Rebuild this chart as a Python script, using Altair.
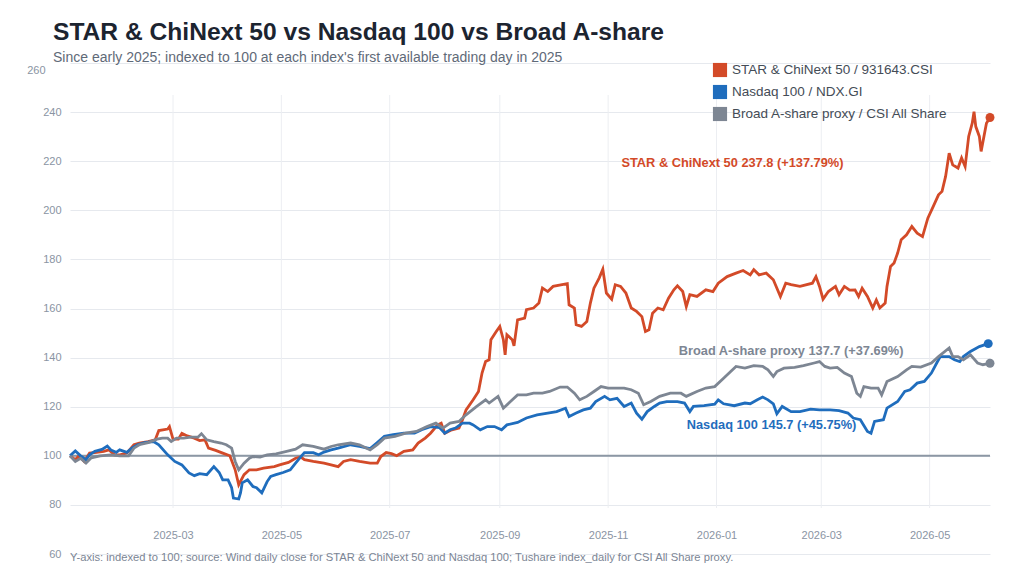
import altair as alt
import pandas as pd

FONT = "Liberation Sans"

# ---------------- data ----------------
star_dates = ["2025-01-02","2025-01-05","2025-01-07","2025-01-10","2025-01-13","2025-01-17","2025-01-21","2025-01-24","2025-01-27","2025-01-30",
"2025-02-03","2025-02-07","2025-02-10","2025-02-15","2025-02-19","2025-02-21","2025-02-26","2025-02-27","2025-03-01","2025-03-04",
"2025-03-06","2025-03-09","2025-03-13","2025-03-16","2025-03-19","2025-03-21","2025-03-25","2025-03-29","2025-04-02","2025-04-05",
"2025-04-07","2025-04-10","2025-04-13","2025-04-17","2025-04-21","2025-04-27","2025-04-30","2025-05-05","2025-05-09","2025-05-12",
"2025-05-14","2025-05-19","2025-05-25","2025-05-29","2025-06-02","2025-06-05","2025-06-09","2025-06-14","2025-06-20","2025-06-24",
"2025-06-26","2025-06-29","2025-07-02","2025-07-05","2025-07-09","2025-07-14","2025-07-17","2025-07-21","2025-07-24","2025-07-28",
"2025-07-30","2025-08-01","2025-08-05","2025-08-09","2025-08-11","2025-08-13","2025-08-17","2025-08-20","2025-08-22","2025-08-24",
"2025-08-26","2025-08-27","2025-08-30","2025-09-01","2025-09-03","2025-09-04","2025-09-05","2025-09-08","2025-09-09","2025-09-11",
"2025-09-15","2025-09-16","2025-09-20","2025-09-23","2025-09-25","2025-09-28","2025-10-01","2025-10-09","2025-10-10","2025-10-13",
"2025-10-14","2025-10-17","2025-10-20","2025-10-22","2025-10-24","2025-10-27","2025-10-29","2025-10-31","2025-11-03","2025-11-05",
"2025-11-08","2025-11-11","2025-11-14","2025-11-17","2025-11-20","2025-11-22","2025-11-24","2025-11-26","2025-11-29","2025-12-02",
"2025-12-05","2025-12-08","2025-12-10","2025-12-13","2025-12-15","2025-12-17","2025-12-21","2025-12-26","2025-12-30","2026-01-02",
"2026-01-07","2026-01-12","2026-01-16","2026-01-20","2026-01-22","2026-01-25","2026-01-29","2026-02-02","2026-02-06","2026-02-09",
"2026-02-12","2026-02-17","2026-02-24","2026-02-26","2026-02-28","2026-03-02","2026-03-05","2026-03-09","2026-03-11","2026-03-14",
"2026-03-17","2026-03-20","2026-03-22","2026-03-24","2026-03-27","2026-03-30","2026-04-01","2026-04-03","2026-04-06","2026-04-07",
"2026-04-09","2026-04-11","2026-04-13","2026-04-15","2026-04-18","2026-04-21","2026-04-24","2026-04-27","2026-04-30","2026-05-03",
"2026-05-06","2026-05-08","2026-05-10","2026-05-12","2026-05-14","2026-05-17","2026-05-19","2026-05-21","2026-05-23","2026-05-25",
"2026-05-26","2026-05-27","2026-05-29","2026-05-30","2026-06-02","2026-06-04"]
star_values = [100.0,98.4,100.0,97.7,101.1,101.4,101.8,102.4,100.4,100.4,
101.1,104.5,105.2,105.8,106.5,110.3,110.9,111.9,106.8,106.8,
109.2,108.1,107.2,106.2,106.5,103.1,102.2,101.1,100.0,94.3,
88.2,92.3,94.3,94.3,95.0,95.6,96.3,97.3,99.0,99.5,
98.4,97.7,97.0,96.3,95.6,97.7,98.4,97.7,97.0,97.0,
99.7,101.3,100.9,100.0,101.8,102.4,105.2,107.2,109.2,112.6,
113.3,109.2,110.6,111.3,114.7,118.7,122.8,126.2,133.7,138.4,
139.1,147.3,150.6,152.7,147.3,141.1,149.3,147.3,144.8,155.4,
156.1,159.5,160.2,162.2,168.3,166.9,169.0,170.1,161.5,160.2,
153.4,152.7,154.7,162.2,168.3,172.5,176.0,166.3,163.8,169.7,
169.0,166.3,160.2,158.8,156.7,150.6,151.3,158.1,160.2,159.5,
164.2,167.6,169.2,166.9,160.8,165.6,164.9,167.6,166.9,170.3,
173.0,174.4,175.5,173.7,175.8,173.7,174.4,171.7,164.9,170.3,
169.7,169.0,170.3,173.0,169.0,163.8,166.9,169.0,165.6,169.0,
167.5,167.6,164.9,168.3,164.9,160.2,163.5,160.2,162.2,169.0,
177.1,178.5,182.6,188.0,190.0,193.4,190.7,189.3,196.8,201.5,
206.3,207.7,213.8,223.3,218.5,217.2,221.3,217.8,230.1,235.5,
240.2,234.1,230.1,224.0,235.5,237.8]

ndx_dates = ["2025-01-02","2025-01-05","2025-01-08","2025-01-11","2025-01-13","2025-01-16","2025-01-20","2025-01-23","2025-01-25","2025-01-28",
"2025-01-30","2025-02-03","2025-02-06","2025-02-09","2025-02-13","2025-02-18","2025-02-21","2025-02-26","2025-03-02","2025-03-06",
"2025-03-10","2025-03-13","2025-03-16","2025-03-20","2025-03-24","2025-03-27","2025-03-29","2025-04-01","2025-04-03","2025-04-04",
"2025-04-07","2025-04-08","2025-04-09","2025-04-12","2025-04-15","2025-04-17","2025-04-20","2025-04-23","2025-04-25","2025-04-28",
"2025-05-02","2025-05-06","2025-05-09","2025-05-12","2025-05-14","2025-05-19","2025-05-22","2025-05-25","2025-05-29","2025-06-02",
"2025-06-09","2025-06-14","2025-06-20","2025-06-24","2025-06-28","2025-07-03","2025-07-09","2025-07-15","2025-07-19","2025-07-24",
"2025-07-29","2025-08-01","2025-08-04","2025-08-07","2025-08-11","2025-08-15","2025-08-17","2025-08-21","2025-08-25","2025-08-29",
"2025-09-02","2025-09-05","2025-09-11","2025-09-16","2025-09-22","2025-09-28","2025-10-03","2025-10-08","2025-10-10","2025-10-14",
"2025-10-18","2025-10-22","2025-10-25","2025-10-30","2025-11-02","2025-11-06","2025-11-10","2025-11-14","2025-11-17","2025-11-20",
"2025-11-23","2025-11-27","2025-11-30","2025-12-04","2025-12-10","2025-12-14","2025-12-17","2025-12-19","2025-12-25","2025-12-31",
"2026-01-02","2026-01-05","2026-01-11","2026-01-17","2026-01-20","2026-01-24","2026-01-27","2026-01-30","2026-02-02","2026-02-04",
"2026-02-07","2026-02-12","2026-02-17","2026-02-23","2026-02-28","2026-03-06","2026-03-11","2026-03-16","2026-03-19","2026-03-23",
"2026-03-27","2026-03-29","2026-03-31","2026-04-05","2026-04-07","2026-04-13","2026-04-17","2026-04-20","2026-04-24","2026-04-28",
"2026-05-02","2026-05-05","2026-05-07","2026-05-12","2026-05-15","2026-05-18","2026-05-20","2026-05-24","2026-05-29","2026-06-03"]
ndx_values = [100.0,102.0,100.0,98.4,100.4,101.8,102.6,104.0,102.4,101.4,
102.4,101.4,103.2,104.5,105.4,105.8,104.5,100.4,97.7,96.3,
93.0,91.9,92.7,92.3,95.6,93.2,90.2,90.2,87.0,82.8,
82.4,84.9,89.0,90.2,87.5,87.0,84.9,89.5,91.6,92.3,
93.2,94.3,97.0,99.7,101.3,101.3,100.4,101.5,102.4,103.1,
104.5,103.8,102.9,105.4,107.9,108.6,109.2,109.2,110.6,111.9,
111.5,109.2,110.6,111.3,113.3,113.3,112.6,110.6,111.9,111.9,
110.6,112.6,113.6,115.4,116.7,117.4,118.0,119.4,116.0,117.4,
118.7,119.4,122.1,124.2,122.8,123.4,120.1,121.5,117.4,114.9,
118.0,120.1,121.5,122.1,122.1,121.5,118.0,120.1,120.4,121.0,
122.8,121.2,120.4,121.5,121.2,122.8,123.9,122.8,121.2,117.1,
120.1,118.0,118.0,119.0,118.7,118.7,118.4,117.4,115.4,114.7,
109.9,109.2,114.0,114.7,119.4,122.1,126.2,126.9,129.6,130.3,
133.7,137.8,140.4,140.4,139.1,138.4,140.4,142.5,144.5,145.7]

csi_dates = ["2025-01-02","2025-01-05","2025-01-08","2025-01-11","2025-01-14","2025-01-19","2025-01-25","2025-01-30","2025-02-04","2025-02-07",
"2025-02-10","2025-02-15","2025-02-20","2025-02-23","2025-02-26","2025-02-28","2025-03-03","2025-03-07","2025-03-11","2025-03-15",
"2025-03-17","2025-03-20","2025-03-24","2025-03-28","2025-03-31","2025-04-03","2025-04-05","2025-04-07","2025-04-10","2025-04-13",
"2025-04-15","2025-04-19","2025-04-23","2025-04-28","2025-05-04","2025-05-09","2025-05-13","2025-05-19","2025-05-25","2025-05-29",
"2025-06-02","2025-06-09","2025-06-14","2025-06-20","2025-06-24","2025-06-28","2025-07-04","2025-07-10","2025-07-16","2025-07-22",
"2025-07-27","2025-07-31","2025-08-04","2025-08-09","2025-08-13","2025-08-19","2025-08-24","2025-08-26","2025-08-31","2025-09-03",
"2025-09-07","2025-09-11","2025-09-16","2025-09-20","2025-09-25","2025-09-29","2025-10-05","2025-10-09","2025-10-13","2025-10-16",
"2025-10-20","2025-10-24","2025-10-28","2025-11-01","2025-11-06","2025-11-10","2025-11-14","2025-11-18","2025-11-21","2025-11-25",
"2025-11-30","2025-12-06","2025-12-12","2025-12-15","2025-12-21","2025-12-26","2025-12-31","2026-01-05","2026-01-09","2026-01-12",
"2026-01-17","2026-01-22","2026-01-27","2026-01-30","2026-02-02","2026-02-04","2026-02-08","2026-02-14","2026-02-19","2026-02-25",
"2026-02-28","2026-03-03","2026-03-06","2026-03-10","2026-03-14","2026-03-18","2026-03-21","2026-03-23","2026-03-25","2026-03-29",
"2026-04-02","2026-04-04","2026-04-07","2026-04-13","2026-04-18","2026-04-21","2026-04-26","2026-05-02","2026-05-06","2026-05-12",
"2026-05-14","2026-05-17","2026-05-20","2026-05-24","2026-05-28","2026-05-31","2026-06-04"]
csi_values = [100.0,97.7,99.0,97.0,99.2,100.0,100.4,100.0,100.0,103.1,
104.5,105.4,106.8,107.2,107.2,105.8,107.2,107.2,107.6,107.6,
109.0,106.5,105.8,105.2,104.5,103.1,97.7,94.3,97.0,99.0,
99.7,99.5,100.4,100.8,101.8,102.7,104.5,103.8,102.7,103.8,
104.5,105.2,104.5,102.4,104.5,107.2,107.9,109.2,109.9,111.9,
113.3,111.3,113.3,114.0,116.7,120.1,122.8,121.5,124.2,119.4,
122.1,124.8,124.8,125.5,125.5,126.2,128.0,128.0,125.5,122.8,
124.2,126.2,128.2,127.6,127.6,127.6,126.9,125.5,120.8,122.1,
124.2,125.5,125.5,124.2,126.2,127.6,128.2,131.6,134.3,136.4,
135.7,136.7,136.4,135.0,132.3,134.3,135.7,136.0,136.7,137.8,
138.4,136.4,135.7,136.0,133.7,132.3,125.5,124.2,128.2,127.6,
127.6,124.8,130.3,132.3,135.0,136.4,136.1,137.8,140.4,143.9,
140.4,140.4,139.1,141.1,137.8,137.1,137.7]

series_names = ["STAR & ChiNext 50 / 931643.CSI", "Nasdaq 100 / NDX.GI", "Broad A-share proxy / CSI All Share"]
series_colors = ["#d34a28", "#1f6dbd", "#7d8693"]

tick_dates = ["2025-03-01", "2025-05-01", "2025-07-01", "2025-09-01", "2025-11-01", "2026-01-01", "2026-03-01", "2026-05-01"]
y_ticks = [60, 80, 100, 120, 140, 160, 180, 200, 220, 240, 260]

note_texts = ["STAR & ChiNext 50 237.8 (+137.79%)", "Broad A-share proxy 137.7 (+37.69%)", "Nasdaq 100 145.7 (+45.75%)"]
note_dates = ["2026-01-10", "2026-02-12", "2026-02-01"]
note_values = [219.3, 142.8, 112.6]
note_colors = ["#d34a28", "#7d8693", "#1f6dbd"]

title_text = "STAR & ChiNext 50 vs Nasdaq 100 vs Broad A-share"
subtitle_text = "Since early 2025; indexed to 100 at each index's first available trading day in 2025"
footer_text = "Y-axis: indexed to 100; source: Wind daily close for STAR & ChiNext 50 and Nasdaq 100; Tushare index_daily for CSI All Share proxy."

# ---------------- tables ----------------
frames = []
for name, d, v in zip(series_names, [star_dates, ndx_dates, csi_dates], [star_values, ndx_values, csi_values]):
    frames.append(pd.DataFrame({"date": d, "value": v, "series": name}))
lines_df = pd.concat(frames, ignore_index=True)
last_df = pd.concat([f.tail(1) for f in frames], ignore_index=True)
ticks_df = pd.DataFrame({"date": tick_dates})
base_df = pd.DataFrame({"value": [100]})
notes_df = pd.DataFrame({"date": note_dates, "value": note_values, "text": note_texts, "color": note_colors})
footer_df = pd.DataFrame({"text": [footer_text]})

W, H = 920, 491

xscale = alt.Scale(type="utc",
                   domain=[alt.DateTime(year=2025, month=1, date=2, utc=True),
                           alt.DateTime(year=2026, month=6, date=4, utc=True)])
yscale = alt.Scale(domain=[60, 260], nice=False, zero=False)
cscale = alt.Scale(domain=series_names, range=series_colors)

x_axis = alt.Axis(values=[alt.DateTime(year=int(t[:4]), month=int(t[5:7]), date=1, utc=True) for t in tick_dates],
                  format="%Y-%m", grid=False, domain=False, ticks=False,
                  labelColor="#8a94a3", labelFontSize=11, labelFont=FONT,
                  labelPadding=2, offset=-27, title=None)
y_axis = alt.Axis(values=y_ticks, grid=True, gridColor="#e6e9ee", gridWidth=1,
                  domain=False, ticks=False, labelColor="#8a94a3", labelFontSize=11,
                  labelFont=FONT, title=None,
                  labelPadding={"condition": {"test": "datum.value == 260", "value": 25}, "value": 9},
                  labelOffset={"condition": {"test": "datum.value == 260", "value": 7}, "value": 0})

def X():
    return alt.X("date:T", scale=xscale, axis=x_axis)

def Y():
    return alt.Y("value:Q", scale=yscale, axis=y_axis)

vgrid = alt.Chart(ticks_df).mark_rule(color="#eceef2", strokeWidth=1).encode(
    x=X(), y=alt.value(32), y2=alt.value(445))

baseline = alt.Chart(base_df).mark_rule(color="#8c97a4", strokeWidth=2).encode(
    y=Y(), x=alt.value(0), x2=alt.value(W))

lines = alt.Chart(lines_df).mark_line(strokeWidth=2.8, interpolate="linear").encode(
    x=X(), y=Y(),
    color=alt.Color("series:N", scale=cscale, legend=None),
    detail="series:N")

dots = alt.Chart(last_df).mark_circle(size=80, opacity=1).encode(
    x=X(), y=Y(),
    color=alt.Color("series:N", scale=cscale,
                    legend=alt.Legend(title=None, orient="none", legendX=642, legendY=-1,
                                      symbolType="square", symbolSize=200, symbolOpacity=1,
                                      labelFont=FONT, labelFontSize=13.5, labelColor="#444c56",
                                      labelLimit=0, labelOffset=4, rowPadding=6, padding=0)))

notes = alt.Chart(notes_df).mark_text(font=FONT, fontSize=12.8, fontWeight="bold", align="center", baseline="middle").encode(
    x=X(), y=Y(),
    text="text:N",
    color=alt.Color("color:N", scale=None))

footer = alt.Chart(footer_df).mark_text(font=FONT, fontSize=11.2, align="left", baseline="middle", color="#7b8594").encode(
    x=alt.value(0), y=alt.value(H + 4), text="text:N")

chart = alt.layer(vgrid, baseline, lines, dots, notes, footer).resolve_scale(color="independent").properties(
    width=W, height=H,
    autosize=alt.AutoSizeParams(type="none"),
    padding={"left": 70, "top": 63, "right": 32, "bottom": 22},
    title=alt.TitleParams(text=title_text, subtitle=subtitle_text, anchor="start", frame="group",
                          dx=-17, offset=-4, font=FONT, fontSize=24.6, fontWeight="bold", color="#1c2430",
                          subtitleFont=FONT, subtitleFontSize=14, subtitleColor="#5f6a78", subtitlePadding=5)
).configure_view(stroke=None)

chart.save("out.html", embed_options={"renderer": "svg", "actions": False})
